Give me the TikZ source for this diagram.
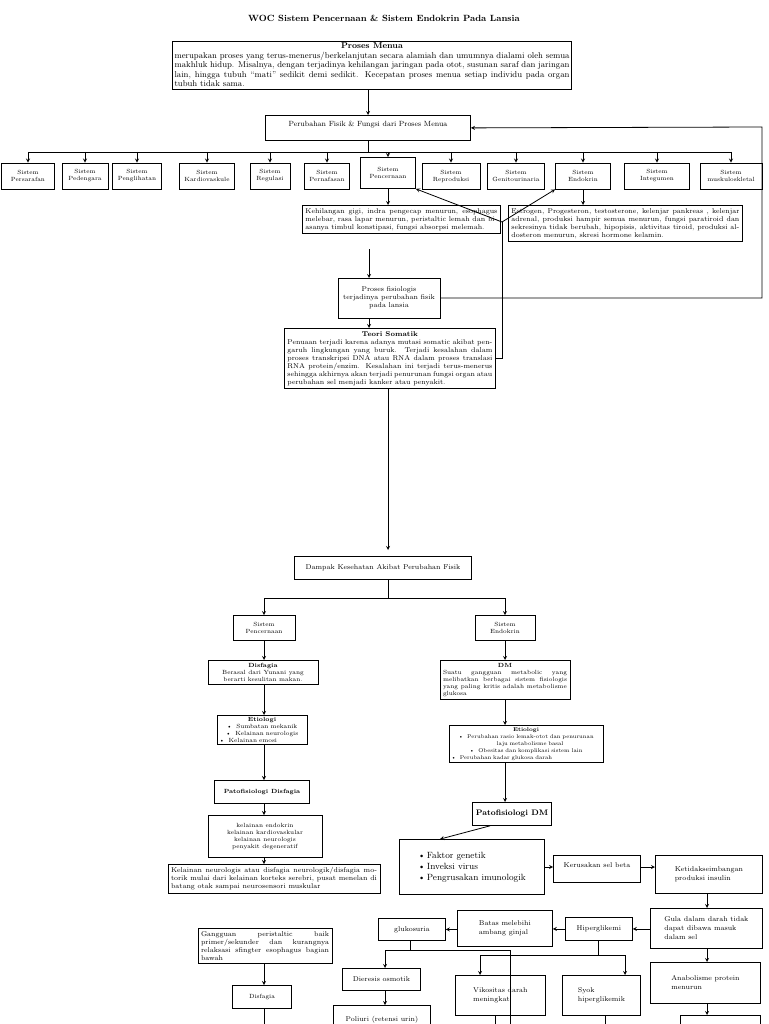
\documentclass[tikz,border=0pt]{standalone}
\usepackage{amsmath}
\usepackage{tikz}
\usetikzlibrary{positioning}

\tikzset{
  kotak/.style={draw=black, thick, inner sep=2pt, align=center, font=\fontsize{6}{7}\selectfont},
  teks/.style={draw=black, thick, inner sep=3pt, align=justify, font=\fontsize{7}{8}\selectfont},
  panah/.style={->, >=stealth, thick},
  garis/.style={-, thick}
}

\begin{document}
\begin{tikzpicture}[x=1pt, y=-1pt]
	\useasboundingbox (0,0) rectangle (768,1024);
	
	\node[font=\bfseries\fontsize{9}{10}\selectfont] (judul) at (384,18) {WOC Sistem Pencernaan \& Sistem Endokrin Pada Lansia};
	\node[teks, text width=395, font=\fontsize{8.5}{9.5}\selectfont, inner sep=2pt] (menua) at (372,65) {\centering\textbf{Proses Menua}\par merupakan proses yang terus-menerus/berkelanjutan secara alamiah dan umumnya dialami oleh semua makhluk hidup. Misalnya, dengan terjadinya kehilangan jaringan pada otot, susunan saraf dan jaringan lain, hingga tubuh ``mati'' sedikit demi sedikit. Kecepatan proses menua setiap individu pada organ tubuh tidak sama.};
	\node[draw=black, thick, minimum width=205, minimum height=25, font=\fontsize{7.5}{8.5}\selectfont, anchor=north, text depth=9pt] (fisik) at (368,115) {Perubahan Fisik \& Fungsi dari Proses Menua};
	
	% sistem tubuh
	\node[kotak, minimum width=53, minimum height=26] (saraf) at (28,176) {Sistem\\Persarafan};
	\node[kotak, minimum width=46, minimum height=26] (dengar) at (85,176) {Sistem\\Pedengara};
	\node[kotak, minimum width=49, minimum height=26] (lihat) at (137,176) {Sistem\\Penglihatan};
	\node[kotak, minimum width=55, minimum height=26] (kardio) at (207,176) {Sistem\\Kardiovaskule};
	\node[kotak, minimum width=40, minimum height=26] (regulasi) at (270,176) {Sistem\\Regulasi};
	\node[kotak, minimum width=45, minimum height=26] (nafas) at (327,176) {Sistem\\Pernafasan};
	\node[kotak, minimum width=55, minimum height=31] (cerna) at (388,173) {Sistem\\Pencernaan};
	\node[kotak, minimum width=58, minimum height=26] (repro) at (451,176) {Sistem\\Reproduksi};
	\node[kotak, minimum width=57, minimum height=26] (genito) at (516,176) {Sistem\\Genitourinaria};
	\node[kotak, minimum width=55, minimum height=26] (endo) at (583,176) {Sistem\\Endokrin};
	\node[kotak, minimum width=65, minimum height=26] (integ) at (657,176) {Sistem\\Integumen};
	\node[kotak, minimum width=62, minimum height=26] (musk) at (731,176) {Sistem\\muskuloskletal};
	
	\coordinate (bus1) at (368,152);
	\draw[panah] (menua.south -| fisik.north) -- (fisik.north);
	\draw[garis] (fisik.south) -- (bus1);
	\draw[garis] (saraf.north |- bus1) -- (musk.north |- bus1);
	\foreach \s in {saraf,dengar,lihat,kardio,regulasi,nafas,cerna,repro,genito,endo,integ,musk}
		\draw[panah] (\s.north |- bus1) -- (\s.north);
	
	\node[teks, text width=192, anchor=north west] (hilang) at (302,205) {Kehilangan gigi, indra pengecap menurun, esophagus melebar, rasa lapar menurun, peristaltic lemah dan biasanya timbul konstipasi, fungsi absorpsi melemah.};
	\node[teks, text width=228, anchor=north west] (hormon) at (508,205) {Estrogen, Progesteron, testosterone, kelenjar pankreas , kelenjar adrenal, produksi hampir semua menurun, fungsi paratiroid dan sekresinya tidak berubah, hipopisis, aktivitas tiroid, produksi aldosteron menurun, skresi hormone kelamin.};
	\draw[panah] (cerna.south) -- (cerna.south |- hilang.north);
	\draw[panah] (endo.south) -- (endo.south |- hormon.north);
	
	\node[kotak, font=\fontsize{7}{8}\selectfont, minimum width=102, minimum height=40] (fisiologis) at (389,298) {Proses fisiologis\\terjadinya perubahan fisik\\pada lansia};
	\node[teks, text width=205, anchor=north west] (somatik) at (284,328) {\centering\textbf{Teori Somatik}\par Penuaan terjadi karena adanya mutasi somatic akibat pengaruh lingkungan yang buruk. Terjadi kesalahan dalam proses transkripsi DNA atau RNA dalam proses translasi RNA protein/enzim. Kesalahan ini terjadi terus-menerus sehingga akhirnya akan terjadi penurunan fungsi organ atau perubahan sel menjadi kanker atau penyakit.};
	
	\coordinate (simpul) at (502,222);
	\draw[panah] (simpul) -- (cerna.south east);
	\draw[panah] (simpul) -- (endo.south west);
	\draw[garis] (simpul) |- (somatik.east);
	\draw[panah] (369,249) -- (369,278);
	\draw[panah] (fisiologis.south -| 369,0) -- (somatik.north -| 369,0);
	\draw[panah] (fisiologis.east) -| (762,127) -- (fisik.east);
	
	\node[kotak, font=\fontsize{7}{8}\selectfont, minimum width=177, minimum height=23] (dampak) at (383,568) {Dampak Kesehatan Akibat Perubahan Fisik};
	\draw[panah] (somatik.south -| 388,0) -- (388,550);
	
	\node[kotak, minimum width=62, minimum height=25] (dcerna) at (264,628) {Sistem\\Pencernaan};
	\node[kotak, minimum width=60, minimum height=25] (dendo) at (505,628) {Sistem\\Endokrin};
	\coordinate (bus2) at (388,598);
	\draw[garis] (dampak.south -| bus2) -- (bus2);
	\draw[garis] (dcerna.north |- bus2) -- (dendo.north |- bus2);
	\draw[panah] (dcerna.north |- bus2) -- (dcerna.north);
	\draw[panah] (dendo.north |- bus2) -- (dendo.north);
	
	% sistem pencernaan
	\node[teks, text width=104, font=\fontsize{6}{7}\selectfont, anchor=north] (disfagia) at (263,660) {\centering\textbf{Disfagia}\par Berasal dari Yunani yang berarti kesulitan makan.\par\vspace{6pt}};
	\node[kotak, anchor=north, text width=86, align=left] (etio1) at (262,715) {\centering\textbf{Etiologi}\par
		\textbullet\ \ Sumbatan mekanik\\ \textbullet\ \ Kelainan neurologis\\ \textbullet\ \ Kelainan emosi};
	\node[kotak, minimum width=95, minimum height=23, anchor=north] (pato1) at (262,780) {\textbf{Patofisiologi Disfagia}};
	\node[kotak, minimum width=114, minimum height=42, anchor=north] (sebab) at (265,815) {kelainan endokrin\\kelainan kardiovaskular\\kelainan neurologis\\penyakit degeneratif};
	\node[teks, text width=206, anchor=north] (neuro) at (274,864) {Kelainan neurologis atau disfagia neurologik/disfagia motorik mulai dari kelainan korteks serebri, pusat menelan di batang otak sampai neurosensori muskular};
	\node[teks, text width=128, anchor=north] (peristaltik) at (265,928) {Gangguan peristaltic baik primer/sekunder dan kurangnya relaksasi sfingter esophagus bagian bawah};
	\node[kotak, minimum width=59, minimum height=23, anchor=north] (disfagia2) at (262,985) {Disfagia};
	\coordinate (bawah1) at (264,1024);
	\draw[panah] (dcerna.south) -- (disfagia.north -| dcerna.south);
	\draw[panah] (disfagia.south -| dcerna.south) -- (etio1.north -| dcerna.south);
	\draw[panah] (etio1.south -| dcerna.south) -- (pato1.north -| dcerna.south);
	\draw[panah] (pato1.south -| dcerna.south) -- (sebab.north -| dcerna.south);
	\draw[panah] (sebab.south -| dcerna.south) -- (neuro.north -| dcerna.south);
	\draw[panah] (peristaltik.south -| dcerna.south) -- (disfagia2.north -| dcerna.south);
	\draw[garis] (disfagia2.south -| dcerna.south) -- (bawah1);
	
	% sistem endokrin
	\node[teks, text width=124, font=\fontsize{6}{7}\selectfont, anchor=north] (dm) at (505,660) {\centering\textbf{DM}\par Suatu gangguan metabolic yang melibatkan berbagai sistem fisiologis yang paling kritis adalah metabolisme glukosa};
	\node[kotak, anchor=north, text width=150, align=left, font=\fontsize{5.5}{7}\selectfont] (etio2) at (526,725) {\centering\textbf{Etiologi}\par
		\textbullet\ \ Perubahan rasio lemak-otot dan penurunan\\ \hspace*{8pt}laju metabolisme basal\\ \textbullet\ \ Obesitas dan komplikasi sistem lain\\ \textbullet\ \ Perubahan kadar glukosa darah};
	\node[kotak, font=\bfseries\fontsize{8}{9}\selectfont, minimum width=79, minimum height=23, anchor=north] (pato2) at (512,802) {Patofisiologi DM};
	\draw[panah] (dendo.south) -- (dm.north -| dendo.south);
	\draw[panah] (dm.south -| dendo.south) -- (etio2.north -| dendo.south);
	\draw[panah] (etio2.south -| dendo.south) -- (pato2.north -| dendo.south);
	
	\tikzset{dmbox/.style={draw=black, thick, align=left, inner sep=3pt, font=\fontsize{7}{9}\selectfont}}
	\node[dmbox, minimum width=145, minimum height=55, font=\fontsize{9}{11}\selectfont] (faktor) at (472,867) {\textbullet\,Faktor genetik\\ \textbullet\,Inveksi virus\\ \textbullet\,Pengrusakan imunologik};
	\node[dmbox, minimum width=87, minimum height=27, anchor=north, text depth=8pt] (sel) at (597,855) {Kerusakan sel beta};
	\node[dmbox, minimum width=107, minimum height=38, anchor=north west] (insulin) at (655,855) {Ketidakseimbangan\\produksi insulin};
	\node[dmbox, minimum width=112, minimum height=40, anchor=north west] (gula) at (650,908) {Gula dalam darah tidak\\dapat dibawa masuk\\dalam sel};
	\node[dmbox, minimum width=67, minimum height=23, anchor=north west] (hiper) at (565,917) {Hiperglikemi};
	\node[dmbox, minimum width=95, minimum height=36, anchor=north west] (batas) at (457,910) {Batas melebihi\\ambang ginjal};
	\node[dmbox, minimum width=67, minimum height=22, anchor=north west, align=center] (gluko) at (378,918) {glukosuria};
	\node[dmbox, minimum width=78, minimum height=22, anchor=north west, align=center] (dieresis) at (342,968) {Dieresis osmotik};
	\node[dmbox, minimum width=97, minimum height=28, anchor=north west] (poliuri) at (333,1005) {Poliuri (retensi urin)};
	\node[dmbox, minimum width=90, minimum height=40, anchor=north west] (vikositas) at (455,975) {Vikositas darah\\meningkat};
	\node[dmbox, minimum width=78, minimum height=40, anchor=north west] (syok) at (562,975) {Syok\\hiperglikemik};
	\node[dmbox, minimum width=110, minimum height=41, anchor=north west] (anabol) at (650,962) {Anabolisme protein\\menurun};
	\node[dmbox, minimum width=80, minimum height=20, anchor=north west] (lanjut) at (680,1015) {};
	
	\draw[panah] (pato2.south west) ++(18,0) -- (faktor.north -| 440,0);
	\draw[panah] (faktor.east) -- (sel.west |- faktor.east);
	\draw[panah] (sel.east |- faktor.east) -- (insulin.west |- faktor.east);
	\draw[panah] (insulin.south -| 707,0) -- (gula.north -| 707,0);
	\draw[panah] (gula.west |- hiper.east) -- (hiper.east);
	\draw[panah] (hiper.west) -- (batas.east |- hiper.west);
	\draw[panah] (batas.west |- gluko.east) -- (gluko.east);
	\draw[panah] (gula.south -| 707,0) -- (anabol.north -| 707,0);
	\draw[panah] (anabol.south -| 707,0) -- (lanjut.north -| 707,0);
	
	\coordinate (cab1) at (410,950);
	\draw[garis] (gluko.south -| cab1) -- (cab1);
	\draw[garis] (385,950) -- (510,950) -- (510,1024);
	\draw[panah] (385,950) -- (dieresis.north -| 385,0);
	\draw[panah] (dieresis.south -| 385,0) -- (poliuri.north -| 385,0);
	
	\coordinate (cab2) at (598,955);
	\draw[garis] (hiper.south -| cab2) -- (cab2);
	\draw[garis] (480,955) -- (625,955);
	\draw[panah] (480,955) -- (vikositas.north -| 480,0);
	\draw[panah] (625,955) -- (syok.north -| 625,0);
	\draw[garis] (vikositas.south -| 495,0) -- (495,1024);
	\draw[garis] (syok.south -| 605,0) -- (605,1024);
	
\end{tikzpicture}
\end{document}
